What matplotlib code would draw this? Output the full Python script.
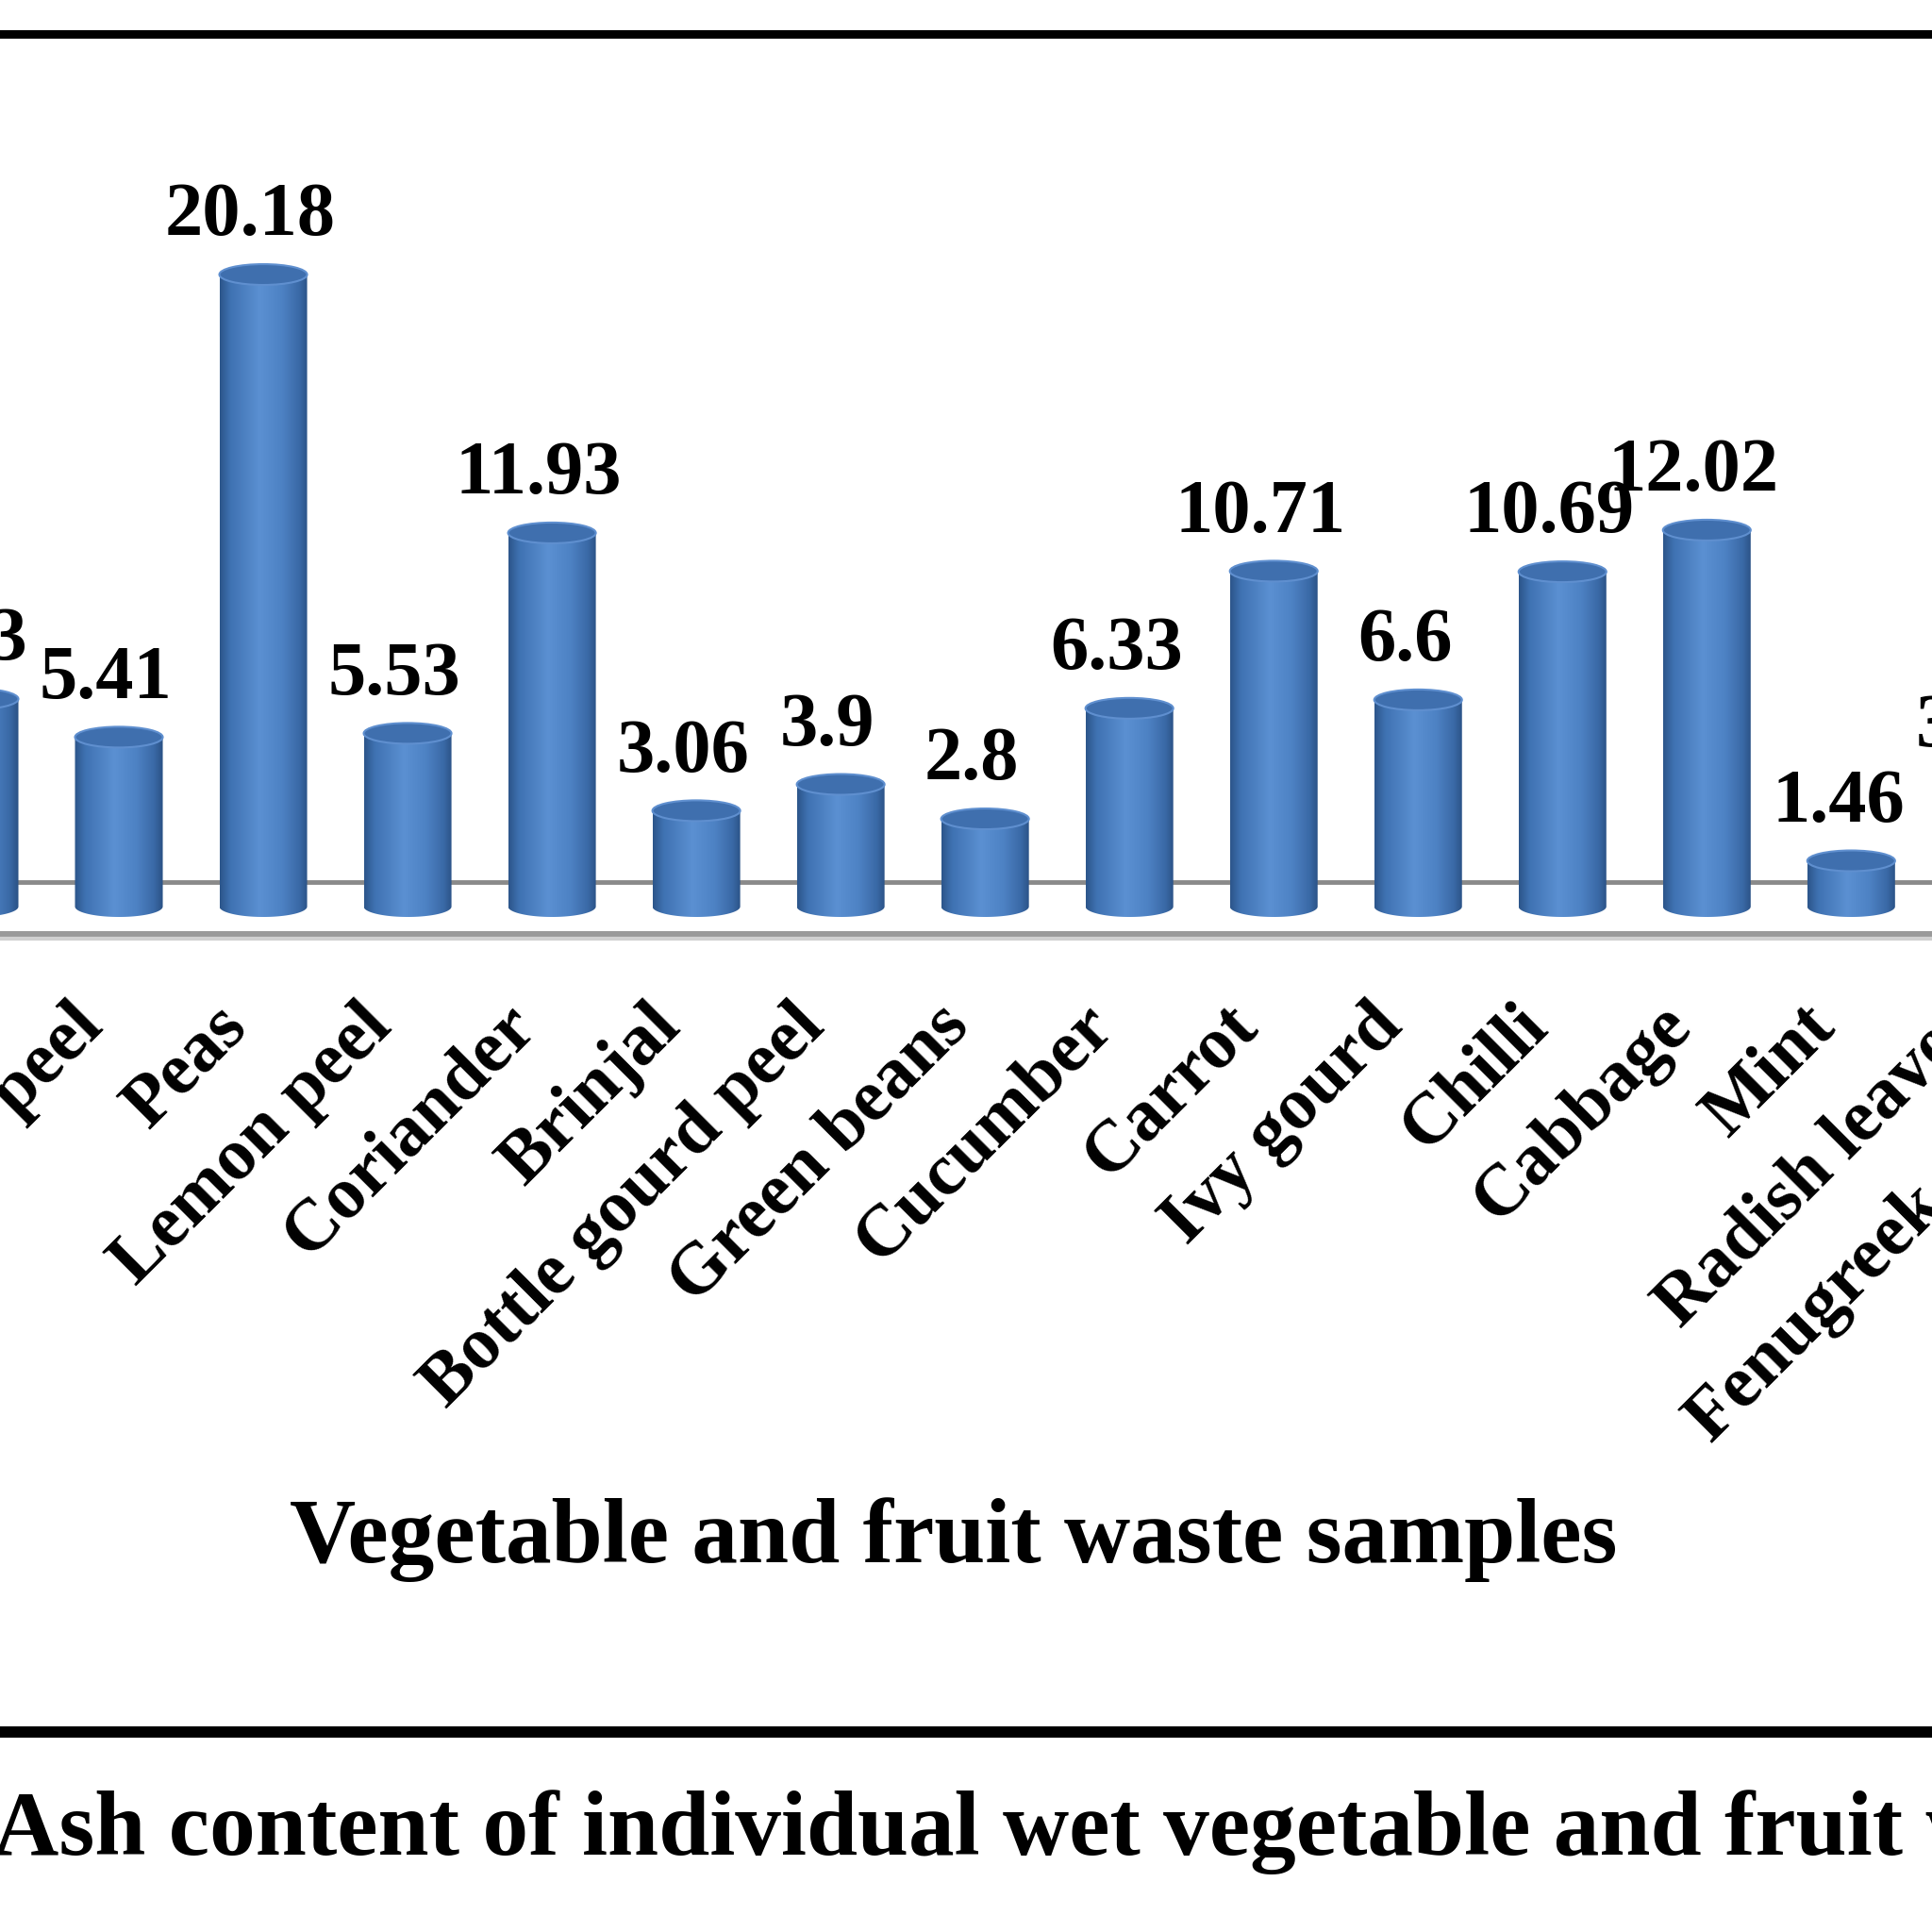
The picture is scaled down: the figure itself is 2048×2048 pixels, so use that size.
import numpy as np
import matplotlib
matplotlib.use("Agg")
import matplotlib.pyplot as plt
from matplotlib.patches import Ellipse, Polygon
from matplotlib.colors import LinearSegmentedColormap
from matplotlib.lines import Line2D

# Data (the view is cropped: first and last two bars are only partly visible)
categories = ['Banana peel', 'Orange peel', 'Peas', 'Lemon peel', 'Coriander',
              'Brinjal', 'Bottle gourd peel', 'Green beans', 'Cucumber',
              'Carrot', 'Ivy gourd', 'Chilli', 'Cabbage', 'Mint',
              'Radish leaves', 'Fenugreek (Methi)']
values = [6.63, 5.41, 20.18, 5.53, 11.93, 3.06, 3.9, 2.8, 6.33,
          10.71, 6.6, 10.69, 12.02, 1.46, 3.86, 4.2]
value_labels = ['6.63', '5.41', '20.18', '5.53', '11.93', '3.06', '3.9', '2.8',
                '6.33', '10.71', '6.6', '10.69', '12.02', '1.46', '3.86', '4.2']

plt.rcParams['font.family'] = ['Liberation Serif', 'DejaVu Serif']
plt.rcParams['font.weight'] = 'bold'

fig = plt.figure(figsize=(20.48, 20.48), dpi=100)
ax = fig.add_axes([0, 1 - 1000 / 2048, 1, 960 / 2048])
ax.set_axis_off()

# cylinder shading
cyl = LinearSegmentedColormap.from_list('cyl', [
    (0.0, '#2c558a'), (0.12, '#3f72b2'), (0.45, '#5b90d2'),
    (0.7, '#4d82c4'), (0.9, '#3a69a6'), (1.0, '#2a5184')])
grad = np.linspace(0, 1, 256).reshape(1, -1)

xpos = np.arange(len(values))
bw = 0.608
eh = 0.663

# floor lines (behind the bars)
ax.axhline(0.78, color='#8a8a8a', lw=3.5, zorder=1)
ax.axhline(-0.87, color='#9a9a9a', lw=5, zorder=1)
ax.axhline(-1.02, color='#d0d0d0', lw=3, zorder=1)

bars = ax.bar(xpos, values, width=bw, color='none', edgecolor='none', zorder=3)
for rect in bars:
    x0 = rect.get_x()
    w = rect.get_width()
    h = rect.get_height()
    xc = x0 + w / 2
    t = np.linspace(np.pi, 2 * np.pi, 60)
    bottom = np.column_stack([xc + w / 2 * np.cos(t), eh / 2 * np.sin(t)])
    outline = np.vstack([bottom, [[x0 + w, h], [x0, h]]])
    clip = Polygon(outline, closed=True, transform=ax.transData,
                   facecolor='none', edgecolor='none')
    ax.add_patch(clip)
    im = ax.imshow(grad, extent=(x0, x0 + w, -eh / 2, h), aspect='auto',
                   cmap=cyl, interpolation='bicubic', zorder=3)
    im.set_clip_path(clip)
    ax.add_patch(Ellipse((xc, h), w, eh, facecolor='#3f6fae',
                         edgecolor='#5f8fcf', lw=1.5, zorder=4))

for x, v, lab in zip(xpos, values, value_labels):
    ax.annotate(lab, (x, v), xytext=(-10, 30), textcoords='offset points',
                ha='center', va='baseline', fontsize=58, fontweight='bold',
                annotation_clip=False, zorder=5)

for x, name in zip(xpos, categories):
    ax.text(x - 0.18, -3.50, name, rotation=45, rotation_mode='anchor',
            ha='right', va='center', fontsize=56, fontweight='bold',
            clip_on=False)

ax.set_xlim(0.1765, 13.56)
ax.set_ylim(-1.1747, 27.741)

# frame lines of the figure box
fig.add_artist(Line2D([0, 1], [1 - 36 / 2048] * 2, transform=fig.transFigure,
                      color='black', lw=6.5))
fig.add_artist(Line2D([0, 1], [1 - 1836 / 2048] * 2, transform=fig.transFigure,
                      color='black', lw=8.6))

fig.text(1011 / 2048, 1 - 1656 / 2048, 'Vegetable and fruit waste samples',
         ha='center', va='baseline', fontsize=70, fontweight='bold')
fig.text(-8 / 2048, 1 - 1966 / 2048,
         'Ash content of individual wet vegetable and fruit waste samples',
         ha='left', va='baseline', fontsize=70, fontweight='bold')

fig.savefig('out.png', dpi=100, facecolor='white')
